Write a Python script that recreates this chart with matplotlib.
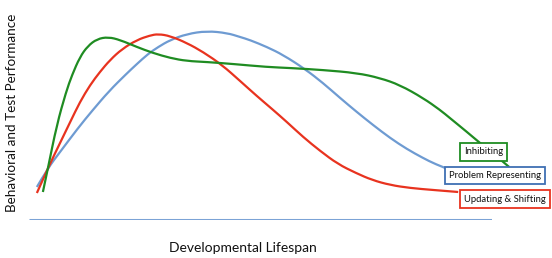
import matplotlib
matplotlib.use("Agg")
import matplotlib.pyplot as plt
from matplotlib.path import Path
from matplotlib.patches import PathPatch

# Developmental lifespan (0-100) vs performance (0-100)
green_x = [3.0, 4.1, 6.0, 8.0, 9.3, 11.0, 12.7, 14.7, 17.1, 19.7, 23.3, 26.8, 30.5, 34.1, 38.4,
           44.1, 51.4, 56.4, 63.5, 70.8, 75.8, 80.1, 85.1, 88.8, 90.9, 94.6, 97.4, 100.7, 103.7]
green_y = [14, 26, 47.5, 64, 72.5, 81.5, 87, 90.5, 91.5, 90, 86.5, 83.5, 81, 79.5, 79,
           78, 76.5, 76, 75, 73.5, 71, 67.5, 61, 55, 51, 44, 38.5, 32.5, 26.5]

red_x = [1.7, 4.1, 6.7, 8.9, 11.0, 13.2, 15.3, 17.5, 20.1, 23.3, 26.1, 27.9, 30.5, 34.1, 37.6,
         41.7, 45.6, 49.2, 52.5, 55.7, 59.2, 62.9, 66.7, 70.6, 74.1, 78.0, 82.3, 87.3, 92.7]
red_y = [13.5, 26, 38.5, 49, 59, 67.5, 74, 80, 85.5, 90, 92.25, 93, 92, 88.5, 84,
         77.5, 69.5, 62, 55.5, 49, 41.5, 34.5, 28, 23.5, 20, 17.5, 16, 15, 14]

blue_x = [1.7, 4.1, 6.7, 10.6, 13.6, 17.3, 21.0, 23.3, 25.7, 27.9, 30.5, 34.1, 38.4, 42.8,
          45.6, 47.7, 51.4, 54.9, 59.6, 63.5, 67.2, 70.8, 74.3, 78.0, 81.6, 85.1, 87.7, 89.9]
blue_y = [16.5, 26, 34, 46, 54.5, 64.5, 73, 78, 83, 86.5, 90, 93, 94.5, 93.5,
          91.5, 90, 86.5, 82.5, 75.5, 68.5, 61, 54, 47.5, 41, 35.5, 31, 28, 26]

labels = ["Inhibiting", "Problem Representing", "Updating & Shifting"]
label_pos = [(98.2, 34), (100.7, 22.25), (102.8, 10.5)]

GREEN = "#1f8c22"
RED = "#e8331f"
BLUE = "#6e9bd2"
BOXBLUE = "#3f6fb3"
FONT = "Lato"


def smooth_path(xs, ys):
    """Quadratic B-spline style path: read points act as Bezier control points."""
    pts = list(zip(xs, ys))
    verts = [pts[0]]
    codes = [Path.MOVETO]
    for i in range(1, len(pts) - 1):
        mid = ((pts[i][0] + pts[i + 1][0]) / 2, (pts[i][1] + pts[i + 1][1]) / 2)
        if i == len(pts) - 2:
            mid = pts[-1]
        verts += [pts[i], mid]
        codes += [Path.CURVE3, Path.CURVE3]
    return Path(verts, codes)


fig = plt.figure(figsize=(5.52, 2.58), dpi=100)
ax = fig.add_axes([29/552, 38/258, 463/552, 200/258])
ax.set_xlim(0, 100)
ax.set_ylim(0, 100)
ax.axis("off")

ax.axhline(0, color="#7ba3d6", lw=2.2, solid_capstyle="butt")
for xs, ys, c in [(blue_x, blue_y, BLUE), (red_x, red_y, RED), (green_x, green_y, GREEN)]:
    ax.add_patch(PathPatch(smooth_path(xs, ys), fc="none", ec=c, lw=1.6,
                           clip_on=False, capstyle="butt"))

for lab, (x, y), ec in zip(labels, label_pos, [GREEN, BOXBLUE, RED]):
    ax.text(x, y, lab, ha="center", va="center", fontsize=6.8, family=FONT, color="#111111",
            clip_on=False,
            bbox=dict(boxstyle="square,pad=0.45", fc="white", ec=ec, lw=1.3))

fig.text(12/552, 1 - 113/258, "Behavioral and Test Performance", rotation=90,
         ha="center", va="center", fontsize=9.7, family=FONT, color="#111111")
fig.text(243/552, 1 - 248/258, "Developmental Lifespan", ha="center", va="center",
         fontsize=10, family=FONT, color="#111111")

fig.savefig("out.png", dpi=100)
